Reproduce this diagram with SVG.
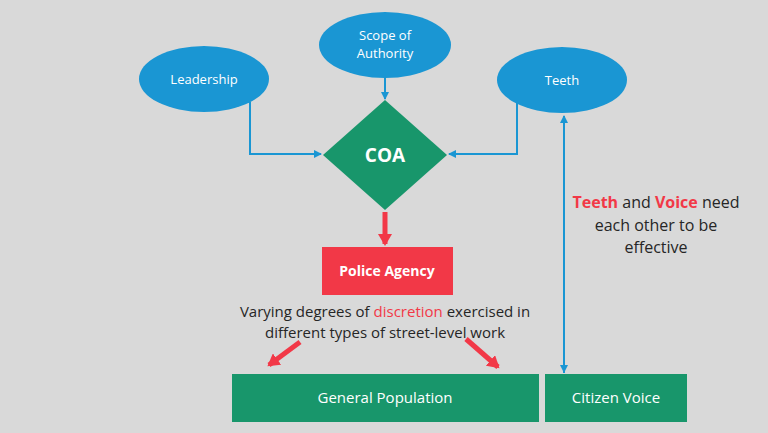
<svg xmlns="http://www.w3.org/2000/svg" width="768" height="433" viewBox="0 0 768 433">
<style>
text{font-family:"Open Sans","Liberation Sans",sans-serif}
.ell{fill:#1a96d3}
.w{fill:#fff;font-size:13px;text-anchor:middle}
.g{fill:#18966b}
.b{stroke:#1a96d3;stroke-width:2;fill:none}
.r{stroke:#f23847;stroke-width:5;fill:none}
.dk{fill:#262626;text-anchor:middle}
.red{fill:#f23847;font-weight:bold}
</style>
<defs>
<marker id="ab" markerWidth="8" markerHeight="8" refX="7" refY="4" orient="auto" markerUnits="userSpaceOnUse" viewBox="0 0 8 8"><path d="M0,0L8,4L0,8z" fill="#1a96d3"/></marker>
<marker id="ar" markerWidth="14" markerHeight="14" refX="10" refY="7" orient="auto" markerUnits="userSpaceOnUse" viewBox="0 0 14 14"><path d="M0,0L12,7L0,14z" fill="#f23847"/></marker>
</defs>
<rect width="768" height="433" fill="#d9d9d9"/>
<g id="connectors">
<path class="b" d="M250,102V154H321" marker-end="url(#ab)"/>
<path class="b" d="M385,78V99" marker-end="url(#ab)"/>
<path class="b" d="M517,103V154H449" marker-end="url(#ab)"/>
<path class="b" d="M564,373V116" marker-end="url(#ab)"/>
<path class="b" d="M564,116V372" marker-end="url(#ab)"/>
<path class="r" d="M385,212V244" marker-end="url(#ar)"/>
<path class="r" d="M300,342L269,365" marker-end="url(#ar)"/>
<path class="r" d="M466,339L498,367" marker-end="url(#ar)"/>
</g>
<g id="leadership"><ellipse class="ell" cx="204" cy="79" rx="65" ry="33"/><text class="w" x="204" y="84">Leadership</text></g>
<g id="scope"><ellipse class="ell" cx="385" cy="45" rx="66" ry="33"/><text class="w" x="385" y="40">Scope of</text><text class="w" x="385" y="58">Authority</text></g>
<g id="teeth"><ellipse class="ell" cx="562" cy="80" rx="65" ry="33"/><text class="w" x="562" y="85">Teeth</text></g>
<g id="coa"><path class="g" d="M385,100L447,155L385,210L323,155z"/><text class="w" x="385" y="162" style="font-size:19px;font-weight:bold">COA</text></g>
<g id="police"><rect x="322" y="247" width="131" height="48" fill="#f23847"/><text class="w" x="387" y="276" style="font-weight:bold;font-size:14px">Police Agency</text></g>
<g id="discretion-text"><text class="dk" x="385" y="317" font-size="15">Varying degrees of <tspan class="red" style="font-weight:normal">discretion</tspan> exercised in</text><text class="dk" x="385" y="338" font-size="15">different types of street-level work</text></g>
<g id="general"><rect class="g" x="232" y="374" width="307" height="48"/><text class="w" x="385" y="403" style="font-size:15px">General Population</text></g>
<g id="citizen"><rect class="g" x="545" y="374" width="142" height="48"/><text class="w" x="616" y="403" style="font-size:15px">Citizen Voice</text></g>
<g id="note"><text class="dk" x="656" y="208" font-size="16"><tspan class="red">Teeth</tspan> and <tspan class="red">Voice</tspan> need</text><text class="dk" x="656" y="231" font-size="16">each other to be</text><text class="dk" x="656" y="253" font-size="16">effective</text></g>
</svg>
